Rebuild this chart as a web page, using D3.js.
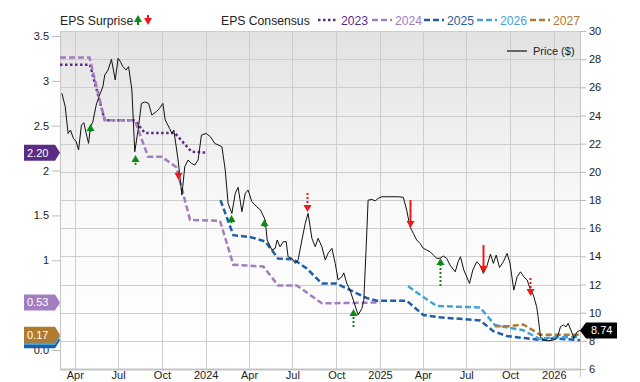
<!DOCTYPE html>
<html>
<head>
<meta charset="utf-8">
<script src="https://cdn.jsdelivr.net/npm/d3@7"></script>
<style>
  html, body { margin: 0; padding: 0; background: #ffffff; }
  svg { display: block; font-family: "Liberation Sans", Arial, Helvetica, sans-serif; }
</style>
</head>
<body>
<svg id="chart" width="640" height="382"></svg>
<script>
// ---------------- DATA ----------------
const priceDates = ["2023-03-05","2023-03-12","2023-03-18","2023-03-23","2023-03-29","2023-04-04","2023-04-09","2023-04-15","2023-04-20","2023-04-25","2023-04-30","2023-05-04","2023-05-09","2023-05-16","2023-05-23","2023-05-30","2023-06-03","2023-06-10","2023-06-17","2023-06-25","2023-07-01","2023-07-06","2023-07-11","2023-07-18","2023-07-23","2023-07-30","2023-08-05","2023-08-12","2023-08-19","2023-08-26","2023-09-03","2023-09-10","2023-09-19","2023-09-26","2023-10-03","2023-10-08","2023-10-17","2023-10-22","2023-10-26","2023-11-04","2023-11-12","2023-11-18","2023-11-25","2023-12-02","2023-12-09","2023-12-16","2023-12-23","2024-01-02","2024-01-11","2024-01-20","2024-02-04","2024-02-11","2024-02-17","2024-02-25","2024-03-03","2024-03-09","2024-03-17","2024-03-24","2024-03-30","2024-04-07","2024-04-17","2024-04-25","2024-05-05","2024-05-09","2024-05-19","2024-05-26","2024-05-30","2024-06-05","2024-06-12","2024-06-18","2024-06-22","2024-06-30","2024-07-07","2024-07-13","2024-07-21","2024-07-28","2024-08-03","2024-08-11","2024-08-18","2024-08-24","2024-09-01","2024-09-08","2024-09-14","2024-09-22","2024-09-29","2024-10-05","2024-10-13","2024-10-17","2024-10-23","2024-10-30","2024-11-06","2024-11-16","2024-11-24","2024-11-28","2024-12-03","2024-12-07","2024-12-15","2024-12-22","2024-12-28","2025-01-05","2025-01-22","2025-02-08","2025-02-19","2025-02-26","2025-03-05","2025-03-12","2025-03-19","2025-03-26","2025-04-02","2025-04-09","2025-04-16","2025-04-23","2025-04-30","2025-05-07","2025-05-14","2025-05-21","2025-05-28","2025-06-08","2025-06-14","2025-06-19","2025-06-26","2025-07-08","2025-07-15","2025-07-23","2025-07-30","2025-08-06","2025-08-13","2025-08-21","2025-08-27","2025-09-02","2025-09-09","2025-09-17","2025-09-25","2025-10-01","2025-10-09","2025-10-16","2025-10-23","2025-10-30","2025-11-06","2025-11-12","2025-11-19","2025-11-26","2025-11-29","2025-12-04","2025-12-11","2025-12-20","2025-12-30","2026-01-06","2026-01-10","2026-01-15","2026-01-21","2026-01-27","2026-01-31","2026-02-06","2026-02-12","2026-02-19","2026-02-25"];
const priceValues = [25.58,24.62,22.73,22.97,22.38,22.14,21.55,23.32,23.49,22.73,22.02,23.2,23.56,24.74,25.45,26.04,26.88,27.23,27.99,26.52,28.06,27.82,27.47,27.23,27.47,25.81,21.43,22.97,24.86,24.96,24.86,24.03,24.27,24.51,24.86,23.68,23.09,22.73,22.97,20.84,18.35,20.36,20.84,20.6,20.48,20.84,22.61,22.73,22.49,22.02,21.78,20.13,17.76,17.05,18.47,18.9,17.17,18.47,18.71,17.88,17.52,17.29,16.58,15.16,14.45,14.57,15.16,14.68,15.04,15.04,13.97,13.85,13.5,13.74,15.16,16.34,17.05,15.28,14.68,15.28,14.68,13.74,14.21,14.57,13.5,12.32,12.55,12.83,12.1,11.6,10.89,9.83,10.3,10.89,14.68,17.99,18.04,17.94,18.11,18.23,18.23,18.23,18.19,17.29,16.1,15.63,15.16,14.92,14.57,14.45,14.33,14.09,13.86,13.86,14.02,13.86,13.38,12.9,13.61,13.97,13.03,12.08,13.03,13.61,13.38,12.79,13.26,14.16,13.5,14.09,13.21,13.61,14.21,13.5,11.6,12.55,12.9,12.55,12.32,11.72,11.25,10.42,9.71,8.29,8.05,8.0,8.05,8.17,8.41,9.0,9.12,9.0,9.24,8.76,8.17,8.64,8.74];

const cons2023Dates = ["2023-03-01","2023-05-03","2023-06-03","2023-08-05","2023-08-26","2023-10-28","2023-12-02","2024-01-02"];
const cons2023Values = [3.18,3.18,2.56,2.56,2.42,2.42,2.21,2.20];
const cons2024Dates = ["2023-03-01","2023-05-02","2023-06-03","2023-08-05","2023-09-02","2023-09-30","2023-10-31","2023-11-29","2024-01-31","2024-02-28","2024-05-01","2024-06-01","2024-07-10","2024-09-01","2025-01-01"];
const cons2024Values = [3.26,3.26,2.56,2.56,2.155,2.155,2.04,1.45,1.44,0.95,0.93,0.72,0.72,0.52,0.53];
const cons2025Dates = ["2024-02-01","2024-02-28","2024-04-03","2024-05-05","2024-06-01","2024-07-03","2024-07-31","2024-09-01","2024-10-02","2024-11-06","2024-12-04","2024-12-25","2025-02-26","2025-04-02","2025-05-07","2025-07-30","2025-08-27","2025-09-24","2025-11-05","2025-12-05","2025-12-31","2026-02-25"];
const cons2025Values = [1.67,1.28,1.26,1.21,1.02,1.01,0.91,0.74,0.74,0.65,0.58,0.55,0.55,0.39,0.364,0.33,0.21,0.156,0.13,0.11,0.13,0.11];
const cons2026Dates = ["2025-03-01","2025-04-02","2025-04-30","2025-07-30","2025-08-30","2025-10-01","2025-10-29","2025-12-01","2025-12-31","2026-02-25"];
const cons2026Values = [0.71,0.59,0.49,0.475,0.28,0.245,0.22,0.125,0.14,0.145];
const cons2027Dates = ["2025-08-30","2025-10-01","2025-10-29","2025-12-03","2026-02-25"];
const cons2027Values = [0.265,0.265,0.285,0.17,0.17];

const seriesNames = ["2023","2024","2025","2026","2027"];
const seriesColors = ["#5b2c86","#a47cc0","#1f5ea8","#44a3d6","#b07b2e"];

// EPS surprise arrows: date, direction, arrow tip price, arrow tail price, dotted shaft
const surpriseDates = ["2023-05-04","2023-08-05","2023-11-04","2024-02-23","2024-05-02","2024-08-01","2024-11-06","2025-03-05","2025-05-07","2025-08-06","2025-11-12"];
const surpriseDir = ["up","up","down","up","up","down","up","down","up","down","down"];
const surpriseTip = [23.4,21.19,19.42,16.93,16.65,17.14,10.26,16.01,13.88,12.81,11.18];
const surpriseTail = [22.83,20.5,20.06,16.36,16.08,18.49,8.98,18.0,11.89,14.8,12.46];
const surpriseDotted = [false,true,false,false,false,true,true,false,true,false,true];

const epsTicks = [0,0.5,1,1.5,2,2.5,3,3.5];
const epsTickLabels = ["0.0","0.5","1","1.5","2","2.5","3","3.5"];
const priceTicks = [6,8,10,12,14,16,18,20,22,24,26,28,30];
const xTickDates = ["2023-04-01","2023-07-01","2023-10-01","2024-01-01","2024-04-01","2024-07-01","2024-10-01","2025-01-01","2025-04-01","2025-07-01","2025-10-01","2026-01-01"];
const xTickLabels = ["Apr","Jul","Oct","2024","Apr","Jul","Oct","2025","Apr","Jul","Oct","2026"];
const xDomain = ["2023-03-01","2026-02-25"];
const lastPrice = 8.74;

// ---------------- CHART ----------------
const parse = d3.utcParse("%Y-%m-%d");
const svg = d3.select("#chart");
const L = 60, R = 580, T = 31, B = 369;
const FONT = "'Liberation Sans', Arial, sans-serif";

const x = d3.scaleUtc().domain(xDomain.map(parse)).range([L, R]);
const yP = d3.scaleLinear().domain([6, 30]).range([B, T]);
const yE = d3.scaleLinear().domain([0, 3.5]).range([350, 36]);

const defs = svg.append("defs");
const grad = defs.append("linearGradient").attr("id", "bg").attr("x1", 0).attr("y1", 0).attr("x2", 0).attr("y2", 1);
grad.append("stop").attr("offset", "0%").attr("stop-color", "#e2e2e2");
grad.append("stop").attr("offset", "55%").attr("stop-color", "#fafafa");
grad.append("stop").attr("offset", "100%").attr("stop-color", "#ffffff");
defs.append("clipPath").attr("id", "clip").append("rect").attr("x", L).attr("y", T).attr("width", R - L).attr("height", B - T);

svg.append("rect").attr("x", L).attr("y", T).attr("width", R - L).attr("height", B - T).attr("fill", "url(#bg)");

// grid
const grid = svg.append("g").attr("stroke", "#cdcdcd").attr("stroke-width", 1).attr("shape-rendering", "crispEdges");
priceTicks.forEach(v => grid.append("line").attr("x1", L).attr("x2", R).attr("y1", Math.round(yP(v)) + 0.5).attr("y2", Math.round(yP(v)) + 0.5));
xTickDates.forEach(d => grid.append("line").attr("x1", Math.round(x(parse(d))) + 0.5).attr("x2", Math.round(x(parse(d))) + 0.5).attr("y1", T).attr("y2", B));

// axes frame
svg.append("line").attr("x1", L + 0.5).attr("x2", L + 0.5).attr("y1", T).attr("y2", B).attr("stroke", "#c4c4c4");
svg.append("line").attr("x1", R + 0.5).attr("x2", R + 0.5).attr("y1", T).attr("y2", B + 8).attr("stroke", "#c4c4c4");
svg.append("line").attr("x1", L).attr("x2", R).attr("y1", B + 0.5).attr("y2", B + 0.5).attr("stroke", "#c4c4c4").attr("stroke-width", 2);

// left axis
const leftAxis = d3.axisLeft(yE).tickValues(epsTicks).tickFormat((d, i) => epsTickLabels[i]).tickSize(8).tickPadding(3);
const gl = svg.append("g").attr("transform", `translate(${L},0)`).call(leftAxis);
gl.select(".domain").remove();
gl.selectAll(".tick line").attr("stroke", "#bbbbbb");
gl.selectAll(".tick text").attr("fill", "#222").style("font-size", "11px").style("font-family", FONT);

// right axis
const rightAxis = d3.axisRight(yP).tickValues(priceTicks).tickFormat(d3.format("d")).tickSize(6).tickPadding(3);
const gr = svg.append("g").attr("transform", `translate(${R},0)`).call(rightAxis);
gr.select(".domain").remove();
gr.selectAll(".tick line").attr("stroke", "#bbbbbb");
gr.selectAll(".tick text").attr("fill", "#222").style("font-size", "11px").style("font-family", FONT);

// bottom axis
const bottomAxis = d3.axisBottom(x).tickValues(xTickDates.map(parse)).tickFormat((d, i) => xTickLabels[i]).tickSize(0).tickPadding(2.5);
const gb = svg.append("g").attr("transform", `translate(0,${B})`).call(bottomAxis);
gb.select(".domain").remove();
gb.selectAll(".tick text").attr("fill", "#222").style("font-size", "11px").style("font-family", FONT);

// consensus lines
const consDates = [cons2023Dates, cons2024Dates, cons2025Dates, cons2026Dates, cons2027Dates];
const consValues = [cons2023Values, cons2024Values, cons2025Values, cons2026Values, cons2027Values];
const plot = svg.append("g").attr("clip-path", "url(#clip)");
const epsLine = d3.line().x(d => x(d[0])).y(d => yE(d[1]));
seriesNames.forEach((name, i) => {
  const pts = consDates[i].map((d, j) => [parse(d), consValues[i][j]]);
  plot.append("path").datum(pts).attr("d", epsLine).attr("fill", "none")
    .attr("stroke", seriesColors[i]).attr("stroke-width", 2.5)
    .attr("stroke-dasharray", i === 0 ? "2.5,2.5" : "6,3");
});

// price line
const pricePts = priceDates.map((d, i) => [parse(d), priceValues[i]]);
plot.append("path").datum(pricePts)
  .attr("d", d3.line().x(d => x(d[0])).y(d => yP(d[1])))
  .attr("fill", "none").attr("stroke", "#111").attr("stroke-width", 1);

// surprise arrows
function arrow(g, cx, tipY, tailY, color, dotted) {
  const dir = tipY < tailY ? -1 : 1; // -1 up
  const headLen = 7, headW = 4;
  const baseY = tipY - dir * headLen;
  g.append("line").attr("x1", cx).attr("x2", cx).attr("y1", tailY).attr("y2", baseY + dir * 1)
    .attr("stroke", color).attr("stroke-width", 2).attr("stroke-dasharray", dotted ? "2,2" : null);
  g.append("path").attr("d", `M${cx},${tipY} L${cx - headW},${baseY} L${cx + headW},${baseY} Z`).attr("fill", color);
}
const arrowsG = svg.append("g");
surpriseDates.forEach((d, i) => {
  const col = surpriseDir[i] === "up" ? "#0b8a14" : "#f21818";
  arrow(arrowsG, Math.round(x(parse(d))) + 0.5, yP(surpriseTip[i]), yP(surpriseTail[i]), col, surpriseDotted[i]);
});

// left badges (last consensus values)
[0, 1, 2, 3, 4].forEach(i => {
  const v = consValues[i][consValues[i].length - 1];
  const cy = yE(v);
  const g = svg.append("g");
  g.append("path").attr("d", `M24,${cy - 8} L55,${cy - 8} L60,${cy} L55,${cy + 8} L24,${cy + 8} Z`).attr("fill", seriesColors[i]);
  if (i === 0 || i === 1 || i === 4) {
    g.append("text").attr("x", 27).attr("y", cy + 4).attr("fill", "#fff").style("font-size", "11px").text(d3.format(".2f")(v));
  }
});

// price badge
{
  const cy = yP(lastPrice);
  svg.append("path").attr("d", `M${R},${cy} L${R + 6},${cy - 8} L617,${cy - 8} L617,${cy + 8} L${R + 6},${cy + 8} Z`).attr("fill", "#000");
  svg.append("text").attr("x", 591).attr("y", cy + 4).attr("fill", "#fff").style("font-size", "11px").text(d3.format(".2f")(lastPrice));
}

// legend
const lg = svg.append("g").style("font-size", "12.2px");
lg.append("text").attr("x", 60).attr("y", 25).attr("fill", "#222").text("EPS Surprise");
arrow(lg, 138, 15, 25, "#0b8a14", false);
arrow(lg, 148, 25, 15, "#f21818", false);
lg.append("text").attr("x", 221).attr("y", 25).attr("fill", "#222").text("EPS Consensus");
const legX = [318, 372, 424, 477, 530];
seriesNames.forEach((name, i) => {
  lg.append("line").attr("x1", legX[i]).attr("x2", legX[i] + 20).attr("y1", 20).attr("y2", 20)
    .attr("stroke", seriesColors[i]).attr("stroke-width", 2.5).attr("stroke-dasharray", i === 0 ? "2.5,2.5" : "6,3");
  lg.append("text").attr("x", legX[i] + 23).attr("y", 25).attr("fill", seriesColors[i]).text(name);
});
// price legend
svg.append("line").attr("x1", 507).attr("x2", 527).attr("y1", 51).attr("y2", 51).attr("stroke", "#666").attr("stroke-width", 2);
svg.append("text").attr("x", 533).attr("y", 55).attr("fill", "#222").style("font-size", "11px").text("Price ($)");
</script>
</body>
</html>
